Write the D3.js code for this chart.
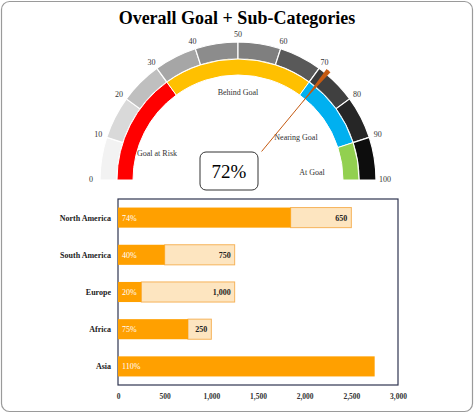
<!DOCTYPE html>
<html><head><meta charset="utf-8">
<script src="https://cdn.jsdelivr.net/npm/d3@7"></script>
<style>body{margin:0;background:#fff}svg{display:block}text{font-family:"Liberation Serif","DejaVu Serif",serif}</style>
</head><body><svg id="c" width="474" height="413"></svg>
<script>
const title = "Overall Goal + Sub-Categories";
const gaugeValue = 72;
const gaugeTicks = [0,10,20,30,40,50,60,70,80,90,100];
const greyBands = [[0,10],[10,20],[20,30],[30,40],[40,50],[50,60],[60,70],[70,72],[72,80],[80,90],[90,100]];
const greyColors = ["#f2f2f2","#d9d9d9","#bfbfbf","#a6a6a6","#8c8c8c","#7f7f7f","#595959","#3a3a3a","#404040","#262626","#0d0d0d"];
const zoneNames = ["Goal at Risk","Behind Goal","Nearing Goal","At Goal"];
const zoneStops = [[0,30],[30,70],[70,90],[90,100]];
const zoneColors = ["#ff0000","#ffc000","#00b0f0","#92d050"];
const regions = ["North America","South America","Europe","Africa","Asia"];
const achieved = [1850,500,250,750,2750];
const remaining = [650,750,1000,250,0];
const pctLabels = ["74%","40%","20%","75%","110%"];
const xTicks = [0,500,1000,1500,2000,2500,3000];

const svg = d3.select("#c");
svg.append("rect").attr("x",1.5).attr("y",1.5).attr("width",471).attr("height",410).attr("rx",8)
  .attr("fill","#fff").attr("stroke","#9a9a9a").attr("stroke-width",1.2);
svg.append("text").attr("x",237).attr("y",24).attr("text-anchor","middle")
  .attr("font-size",18).attr("font-weight","bold").text(title);

const cx=238, cy=180;
const ang = d3.scaleLinear().domain([0,100]).range([-Math.PI/2, Math.PI/2]);
const g = svg.append("g").attr("transform",`translate(${cx},${cy})`);
const arcOuter = d3.arc().innerRadius(121).outerRadius(138);
g.selectAll("path.grey").data(greyBands).join("path")
  .attr("d",d=>arcOuter({startAngle:ang(d[0]),endAngle:ang(d[1])}))
  .attr("fill",(d,i)=>greyColors[i]).attr("stroke","#fff").attr("stroke-width",1.2);
const arcInner = d3.arc().innerRadius(105).outerRadius(121);
g.selectAll("path.zone").data(zoneStops).join("path")
  .attr("d",d=>arcInner({startAngle:ang(d[0]),endAngle:ang(d[1])}))
  .attr("fill",(d,i)=>zoneColors[i]).attr("stroke","#fff").attr("stroke-width",1);
const pt=(v,r)=>[r*Math.sin(ang(v)), -r*Math.cos(ang(v))];
g.selectAll("text.tk").data(gaugeTicks).join("text")
  .attr("x",d=>pt(d,147)[0]).attr("y",d=>pt(d,145)[1]+2)
  .attr("text-anchor","middle").attr("font-size",8).attr("fill","#333").text(d=>d);
const zl=[[-81,-24],[0,-85],[58,-40],[74,-5]];
zoneNames.forEach((n,i)=>g.append("text").attr("x",zl[i][0]).attr("y",zl[i][1])
  .attr("text-anchor","middle").attr("font-size",8).attr("fill","#333").text(n));
// needle
const a=ang(gaugeValue);
const p1=pt(gaugeValue,37), p2=pt(gaugeValue,142);
g.append("line").attr("x1",p1[0]).attr("y1",p1[1]).attr("x2",p2[0]).attr("y2",p2[1])
  .attr("stroke","#c55a11").attr("stroke-width",1);
const w=2.5, n1=pt(gaugeValue,100), perp=[Math.cos(a),Math.sin(a)];
g.append("path").attr("d",`M${n1[0]},${n1[1]}L${p2[0]+perp[0]*w},${p2[1]+perp[1]*w}L${p2[0]-perp[0]*w},${p2[1]-perp[1]*w}Z`)
  .attr("fill","#c55a11");
svg.append("rect").attr("x",200).attr("y",152).attr("width",58).attr("height",38).attr("rx",6)
  .attr("fill","#fff").attr("stroke","#333").attr("stroke-width",1);
svg.append("text").attr("x",229).attr("y",178).attr("text-anchor","middle").attr("font-size",19).text(gaugeValue+"%");

// bar chart
const x=d3.scaleLinear().domain([0,3000]).range([118,398]);
const y=d3.scaleBand().domain(regions).range([199,385]).paddingInner(0.46).paddingOuter(0.23);
svg.append("rect").attr("x",118).attr("y",199).attr("width",280).attr("height",186)
  .attr("fill","none").attr("stroke","#2f3550").attr("stroke-width",1.2);
svg.selectAll("rect.rem").data(regions).join("rect")
  .attr("x",(d,i)=>x(achieved[i])).attr("y",d=>y(d)).attr("width",(d,i)=>x(achieved[i]+remaining[i])-x(achieved[i]))
  .attr("height",y.bandwidth()).attr("fill","#fde5c0").attr("stroke","#f6b35a").attr("stroke-width",1)
  .style("display",(d,i)=>remaining[i]>0?null:"none");
svg.selectAll("rect.ach").data(regions).join("rect")
  .attr("x",x(0)).attr("y",d=>y(d)).attr("width",(d,i)=>x(achieved[i])-x(0))
  .attr("height",y.bandwidth()).attr("fill","#ffa000");
svg.selectAll("text.pc").data(regions).join("text")
  .attr("x",122).attr("y",d=>y(d)+y.bandwidth()/2+3).attr("font-size",8).attr("fill","#fff").text((d,i)=>pctLabels[i]);
svg.selectAll("text.rm").data(regions).join("text")
  .attr("x",(d,i)=>x(achieved[i]+remaining[i])-4).attr("y",d=>y(d)+y.bandwidth()/2+3)
  .attr("text-anchor","end").attr("font-size",8).attr("font-weight","bold").attr("fill","#222")
  .text((d,i)=>remaining[i]>0?d3.format(",")(remaining[i]):"");
svg.selectAll("text.rg").data(regions).join("text")
  .attr("x",111).attr("y",d=>y(d)+y.bandwidth()/2+3).attr("text-anchor","end")
  .attr("font-size",8).attr("font-weight","bold").attr("fill","#222").text(d=>d);
const ax=svg.append("g").attr("transform","translate(0,385)")
  .call(d3.axisBottom(x).tickValues(xTicks).tickFormat(d3.format(",")).tickSize(0).tickPadding(9));
ax.select(".domain").remove();
ax.selectAll("text").attr("font-size",7.5).attr("font-weight","bold").attr("fill","#333").style("font-family","Liberation Serif, serif");
</script></body></html>
